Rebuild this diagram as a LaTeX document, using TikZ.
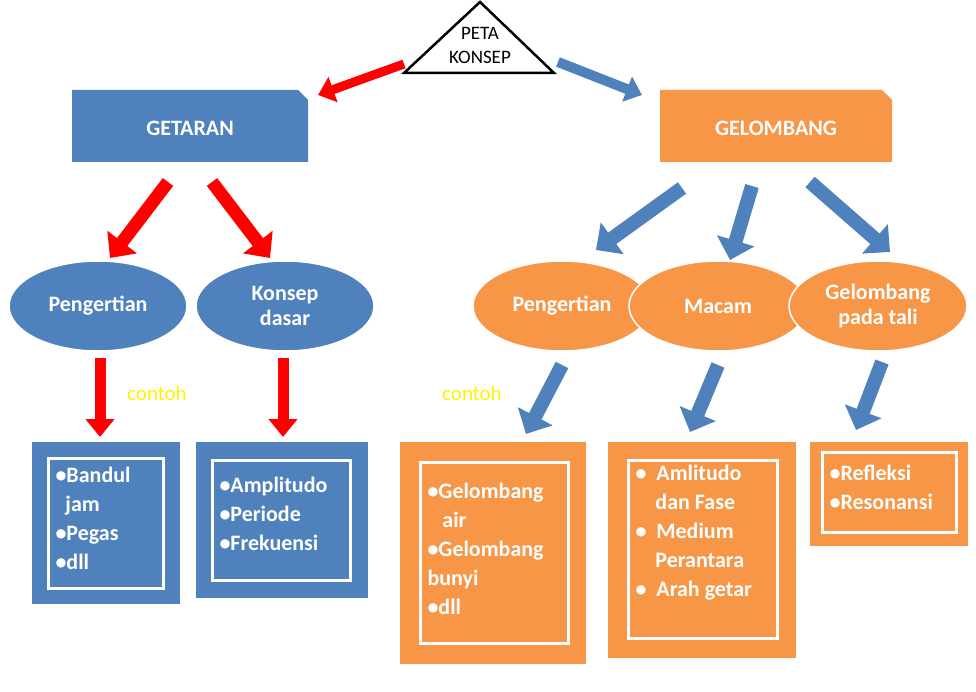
\documentclass[tikz,border=0pt]{standalone}
\usepackage{fontspec}
\setmainfont{Carlito}
\usetikzlibrary{arrows.meta,shapes.geometric}
\definecolor{bl}{HTML}{4F81BD}
\definecolor{or}{HTML}{F79646}
\definecolor{rd}{HTML}{FF0000}
\tikzset{
 ra/.style={draw=rd,line width=13pt,-{Triangle[length=20pt,width=36pt]}},
 ba/.style={draw=bl,line width=14pt,-{Triangle[length=20pt,width=38pt]}},
 el/.style={ellipse,draw=white,line width=1.5pt,minimum width=178pt,minimum height=90pt,text=white,font=\bfseries\fontsize{22}{25}\selectfont,align=center},
 ttl/.style={text=white,font=\bfseries\fontsize{22}{25}\selectfont},
 bt/.style={text=white,font=\bfseries\fontsize{22}{29}\selectfont,align=left,anchor=north west},
 inner/.style={draw=white,line width=3pt},
}
\begin{document}
\begin{tikzpicture}[x=1pt,y=-1pt]
\useasboundingbox (0,0) rectangle (976,692);
% triangle
\draw[line width=2.5pt,fill=white] (480,2) -- (554,73) -- (404,73) -- cycle;
\node (peta) at (480,33) {\fontsize{19}{20}\selectfont PETA};
\node (konsep) at (480,57) {\fontsize{19}{20}\selectfont KONSEP};
\coordinate (ts) at (404,64); \coordinate (te) at (558,62);
% top boxes
\fill[bl] (72,90) -- (298,90) -- (308,100) -- (308,162) -- (72,162) -- cycle;
\node[ttl] (get) at (190,128) {GETARAN};
\fill[or] (660,90) -- (882,90) -- (892,100) -- (892,162) -- (660,162) -- cycle;
\node[ttl] (gel) at (776,128) {GELOMBANG};
\coordinate (getR) at (318,95); \coordinate (gelL) at (642,95);
\draw[ra,line width=9pt,-{Triangle[length=16pt,width=26pt]}] (ts) -- (getR);
\draw[ba,line width=10pt,-{Triangle[length=16pt,width=26pt]}] (te) -- (gelL);
% ellipses
\node[el,fill=bl] (e1) at (98,306) {Pengertian};
\node[el,fill=bl] (e2) at (285,306) {Konsep\\dasar};
\node[el,fill=or] (e3) at (562,306) {Pengertian};
\node[el,fill=or] (e4) at (718,306) {Macam};
\node[el,fill=or] (e5) at (878,306) {Gelombang\\pada tali};
% arrows to ellipses
\coordinate (a1) at (168,182); \coordinate (a1e) at (110,258);
\coordinate (a2) at (212,182); \coordinate (a2e) at (270,258);
\draw[ra] (a1) -- (a1e); \draw[ra] (a2) -- (a2e);
\coordinate (b1) at (682,188); \coordinate (b1e) at (596,250);
\coordinate (b2) at (752,186); \coordinate (b2e) at (730,260);
\coordinate (b3) at (810,182); \coordinate (b3e) at (890,252);
\draw[ba] (b1) -- (b1e); \draw[ba] (b2) -- (b2e); \draw[ba] (b3) -- (b3e);
% arrows to boxes
\coordinate (c1) at (100,358); \coordinate (c1e) at (100,437);
\coordinate (c2) at (283,358); \coordinate (c2e) at (283,437);
\draw[ra,line width=11pt,-{Triangle[length=18pt,width=28pt]}] (c1) -- (c1e); \draw[ra,line width=11pt,-{Triangle[length=18pt,width=28pt]}] (c2) -- (c2e);
\coordinate (d1) at (562,365); \coordinate (d1e) at (526,434);
\coordinate (d2) at (718,365); \coordinate (d2e) at (690,432);
\coordinate (d3) at (882,362); \coordinate (d3e) at (856,430);
\draw[ba] (d1) -- (d1e); \draw[ba] (d2) -- (d2e); \draw[ba] (d3) -- (d3e);
\node[text=yellow,font=\fontsize{21}{23}\selectfont] (ct1) at (157,393) {contoh};
\node[text=yellow,font=\fontsize{21}{23}\selectfont] (ct2) at (472,393) {contoh};
% boxes
\fill[bl] (32,442) rectangle (180,604); \draw[inner,fill=bl] (48,458) rectangle (163,588);
\node[bt] (t1) at (52,464) {•Bandul\\\ \ jam\\•Pegas\\•dll};
\fill[bl] (196,442) rectangle (368,598); \draw[inner,fill=bl] (212,460) rectangle (350,580);
\node[bt] (t2) at (216,474) {•Amplitudo\\•Periode\\•Frekuensi};
\fill[or] (400,442) rectangle (586,664); \draw[inner,fill=or] (420,462) rectangle (568,643);
\node[bt] (t3) at (424,480) {•Gelombang\\\ \ \ air\\•Gelombang\\bunyi\\•dll};
\fill[or] (608,442) rectangle (796,658); \draw[inner,fill=or] (628,460) rectangle (777,638);
\node[bt] (t4) at (632,462) {•\ \ Amlitudo\\\ \ \ \ dan Fase\\•\ \ Medium\\\ \ \ \ Perantara\\•\ \ Arah getar};
\fill[or] (810,442) rectangle (968,546); \draw[inner,fill=or] (822,452) rectangle (956,532);
\node[bt] (t5) at (826,462) {•Refleksi\\•Resonansi};
\end{tikzpicture}
\end{document}
